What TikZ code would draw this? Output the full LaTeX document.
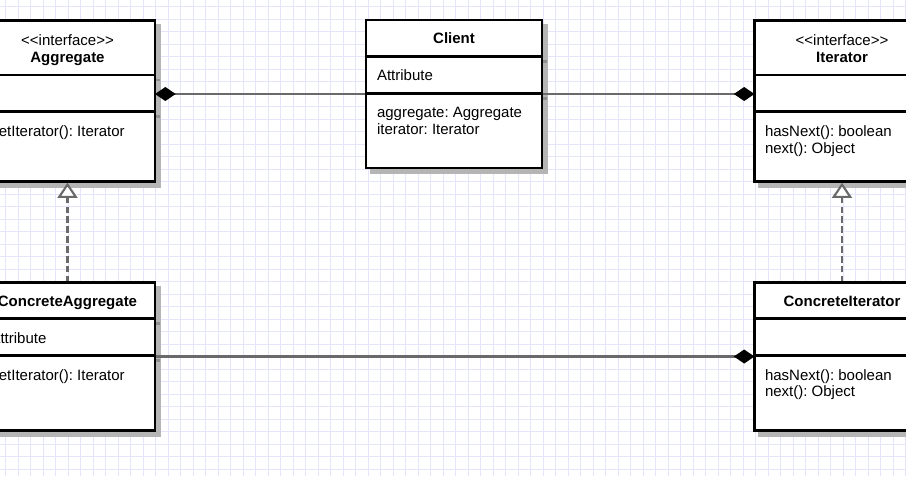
\documentclass[tikz,border=0pt]{standalone}
\usepackage{fontspec}
\setmainfont{Liberation Sans}
\usetikzlibrary{arrows.meta}
\frenchspacing
\pgfdeclarelayer{gridlayer}
\pgfdeclarelayer{bglayer}
\pgfsetlayers{gridlayer,bglayer,main}
\definecolor{gridc}{HTML}{E4E4FB}
\definecolor{linec}{HTML}{6A6A6A}
\definecolor{shadowc}{HTML}{B5B5B5}
\definecolor{shadowd}{HTML}{8E8E8E}
\tikzset{
  umlbox/.style={draw=black, fill=white, line width=1.9pt, rectangle, inner sep=0pt, outer sep=0pt},
  divider/.style={draw=black, line width=1.9pt},
  shadowbox/.style={fill=shadowc, draw=shadowc, line width=1.9pt},
  shadowline/.style={draw=shadowd, line width=1.9pt},
  txt/.style={inner sep=0pt, outer sep=0pt, font=\fontsize{11.25pt}{13.5pt}\selectfont},
  titletxt/.style={txt, anchor=base},
  boldtxt/.style={txt, anchor=base, font=\fontsize{11.25pt}{13.5pt}\selectfont\bfseries},
  membertxt/.style={txt, anchor=base west},
  gridline/.style={draw=gridc, line width=0.75pt},
  composition/.style={draw=linec, line width=1.6pt},
  realization/.style={draw=linec, line width=1.6pt, dash pattern=on 5pt off 2.4pt,
    shorten >=0.7pt, -{Triangle[open, length=11.5pt, width=15pt, fill=white]}},
  comptip/.tip={Diamond[length=15.5pt, width=10.5pt, color=black, fill=black]},
}
\begin{document}
\begin{tikzpicture}[x=0.75pt,y=-0.75pt]
\useasboundingbox (0,0) rectangle (906,476);

% ---------- boxes ----------
\node[umlbox, minimum width=175*0.75pt, minimum height=161.4*0.75pt] (agg) at (67.5,101) {};
\draw[divider] (-20,75) -- (155,75);
\draw[divider] (-20,111.7) -- (155,111.7);

\node[umlbox, minimum width=176*0.75pt, minimum height=148*0.75pt] (client) at (454,94) {};
\draw[divider] (366,56.7) -- (542,56.7);
\draw[divider] (366,93.3) -- (542,93.3);

\node[umlbox, minimum width=175*0.75pt, minimum height=161.4*0.75pt] (iter) at (842,101) {};
\draw[divider] (754.5,75) -- (929.5,75);
\draw[divider] (754.5,111.7) -- (929.5,111.7);

\node[umlbox, minimum width=175*0.75pt, minimum height=148.4*0.75pt] (cagg) at (67.5,356.5) {};
\draw[divider] (-20,318.7) -- (155,318.7);
\draw[divider] (-20,355.5) -- (155,355.5);

\node[umlbox, minimum width=175*0.75pt, minimum height=148.4*0.75pt] (citer) at (842,356.5) {};
\draw[divider] (754.5,318.7) -- (929.5,318.7);
\draw[divider] (754.5,355.5) -- (929.5,355.5);

% ---------- texts ----------
\node[titletxt] (aggst) at (67.5,45) {<\kern0pt<interface>\kern0pt>};
\node[boldtxt] (aggname) at (67.5,62.7) {Aggregate};
\node[membertxt] (aggm1) at (-9.5,136.7) {getIterator(): Iterator};

\node[boldtxt] (clientname) at (454,43.3) {Client};
\node[membertxt] (clienta1) at (377,80.3) {Attribute};
\node[membertxt] (clientm1) at (377,117.7) {aggregate: Aggregate};
\node[membertxt] (clientm2) at (377,134.2) {iterator: Iterator};

\node[titletxt] (iterst) at (842,45) {<\kern0pt<interface>\kern0pt>};
\node[boldtxt] (itername) at (842,62.7) {Iterator};
\node[membertxt] (iterm1) at (765,136.7) {hasNext(): boolean};
\node[membertxt] (iterm2) at (765,153.2) {next(): Object};

\node[boldtxt] (caggname) at (67.5,306) {ConcreteAggregate};
\node[membertxt] (cagga1) at (-9.5,343.3) {Attribute};
\node[membertxt] (caggm1) at (-9.5,380) {getIterator(): Iterator};

\node[boldtxt] (citername) at (842,306) {ConcreteIterator};
\node[membertxt] (citerm1) at (765,380) {hasNext(): boolean};
\node[membertxt] (citerm2) at (765,396.7) {next(): Object};

% ---------- connectors ----------
\begin{pgfonlayer}{bglayer}
\begin{scope}
\clip (0,0) rectangle (906,476);
\draw[composition, comptip-comptip]
  (agg.east |- client.center) -- (iter.west |- client.center);
\draw[composition, -comptip] (cagg.east) -- (citer.west);
\draw[realization] (cagg.north) -- (agg.south);
\draw[realization] (citer.north) -- (iter.south);
\end{scope}
\end{pgfonlayer}

% ---------- grid and shadows ----------
\begin{pgfonlayer}{gridlayer}
\begin{scope}
\clip (0,0) rectangle (906,476);
\fill[white] (0,0) rectangle (906,476);
\foreach \i in {0,...,72} \draw[gridline] ({5.7+12.5*\i},0) -- ({5.7+12.5*\i},476);
\foreach \j in {0,...,37} \draw[gridline] (0,{6.8+12.5*\j}) -- (906,{6.8+12.5*\j});
% shadows
\path[shadowbox] (-15,25.3) rectangle (160,186.7);
\draw[shadowline] (-15,80) -- (160,80);
\draw[shadowline] (-15,116.7) -- (160,116.7);
\path[shadowbox] (371,25) rectangle (547,173);
\draw[shadowline] (371,61.7) -- (547,61.7);
\draw[shadowline] (371,98.3) -- (547,98.3);
\path[shadowbox] (759.5,25.3) rectangle (934.5,186.7);
\draw[shadowline] (759.5,80) -- (934.5,80);
\draw[shadowline] (759.5,116.7) -- (934.5,116.7);
\path[shadowbox] (-15,287.3) rectangle (160,435.7);
\draw[shadowline] (-15,323.7) -- (160,323.7);
\draw[shadowline] (-15,360.5) -- (160,360.5);
\path[shadowbox] (759.5,287.3) rectangle (934.5,435.7);
\draw[shadowline] (759.5,323.7) -- (934.5,323.7);
\draw[shadowline] (759.5,360.5) -- (934.5,360.5);
\end{scope}
\end{pgfonlayer}
\end{tikzpicture}
\end{document}
